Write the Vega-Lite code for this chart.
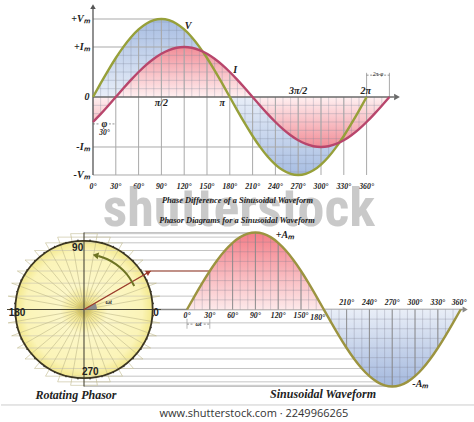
{
"$schema":"https://vega.github.io/schema/vega-lite/v6.json",
"padding":0,
"background":"white",
"spacing":0,
"bounds":"flush",
"config":{"view":{"stroke":null},"text":{"font":"Liberation Serif","fontStyle":"italic","fontWeight":"bold","color":"#222"}},
"datasets":{
"vc":[{"x":0,"y":0},{"x":10,"y":0.1736},{"x":20,"y":0.342},{"x":30,"y":0.5},{"x":40,"y":0.6428},{"x":50,"y":0.766},{"x":60,"y":0.866},{"x":70,"y":0.9397},{"x":80,"y":0.9848},{"x":90,"y":1},{"x":100,"y":0.9848},{"x":110,"y":0.9397},{"x":120,"y":0.866},{"x":130,"y":0.766},{"x":140,"y":0.6428},{"x":150,"y":0.5},{"x":160,"y":0.342},{"x":170,"y":0.1736},{"x":180,"y":0},{"x":190,"y":-0.1736},{"x":200,"y":-0.342},{"x":210,"y":-0.5},{"x":220,"y":-0.6428},{"x":230,"y":-0.766},{"x":240,"y":-0.866},{"x":250,"y":-0.9397},{"x":260,"y":-0.9848},{"x":270,"y":-1},{"x":280,"y":-0.9848},{"x":290,"y":-0.9397},{"x":300,"y":-0.866},{"x":310,"y":-0.766},{"x":320,"y":-0.6428},{"x":330,"y":-0.5},{"x":340,"y":-0.342},{"x":350,"y":-0.1736},{"x":360,"y":0}],
"ic":[{"x":0,"y":-0.3205},{"x":10,"y":-0.2192},{"x":20,"y":-0.1113},{"x":30,"y":0},{"x":40,"y":0.1113},{"x":50,"y":0.2192},{"x":60,"y":0.3205},{"x":70,"y":0.412},{"x":80,"y":0.491},{"x":90,"y":0.5551},{"x":100,"y":0.6023},{"x":110,"y":0.6313},{"x":120,"y":0.641},{"x":130,"y":0.6313},{"x":140,"y":0.6023},{"x":150,"y":0.5551},{"x":160,"y":0.491},{"x":170,"y":0.412},{"x":180,"y":0.3205},{"x":190,"y":0.2192},{"x":200,"y":0.1113},{"x":210,"y":0},{"x":220,"y":-0.1113},{"x":230,"y":-0.2192},{"x":240,"y":-0.3205},{"x":250,"y":-0.412},{"x":260,"y":-0.491},{"x":270,"y":-0.5551},{"x":280,"y":-0.6023},{"x":290,"y":-0.6313},{"x":300,"y":-0.641},{"x":310,"y":-0.6313},{"x":320,"y":-0.6023},{"x":330,"y":-0.5551},{"x":340,"y":-0.491},{"x":350,"y":-0.412},{"x":360,"y":-0.3205},{"x":370,"y":-0.2192},{"x":380,"y":-0.1113},{"x":390,"y":0}],
"tvg":[{"x":0,"y":-0.3205,"y2":0},{"x":10,"y":-0.2192,"y2":0.1736},{"x":20,"y":-0.1113,"y2":0.342},{"x":30,"y":0,"y2":0.5},{"x":40,"y":0,"y2":0.6428},{"x":50,"y":0,"y2":0.766},{"x":60,"y":0,"y2":0.866},{"x":70,"y":0,"y2":0.9397},{"x":80,"y":0,"y2":0.9848},{"x":90,"y":0,"y2":1},{"x":100,"y":0,"y2":0.9848},{"x":110,"y":0,"y2":0.9397},{"x":120,"y":0,"y2":0.866},{"x":130,"y":0,"y2":0.766},{"x":140,"y":0,"y2":0.6428},{"x":150,"y":0,"y2":0.5551},{"x":160,"y":0,"y2":0.491},{"x":170,"y":0,"y2":0.412},{"x":180,"y":0,"y2":0.3205},{"x":190,"y":-0.1736,"y2":0.2192},{"x":200,"y":-0.342,"y2":0.1113},{"x":210,"y":-0.5,"y2":0},{"x":220,"y":-0.6428,"y2":0},{"x":230,"y":-0.766,"y2":0},{"x":240,"y":-0.866,"y2":0},{"x":250,"y":-0.9397,"y2":0},{"x":260,"y":-0.9848,"y2":0},{"x":270,"y":-1,"y2":0},{"x":280,"y":-0.9848,"y2":0},{"x":290,"y":-0.9397,"y2":0},{"x":300,"y":-0.866,"y2":0},{"x":310,"y":-0.766,"y2":0},{"x":320,"y":-0.6428,"y2":0},{"x":330,"y":-0.5551,"y2":0},{"x":340,"y":-0.491,"y2":0},{"x":350,"y":-0.412,"y2":0},{"x":360,"y":-0.3205,"y2":0},{"x":370,"y":-0.2192,"y2":0},{"x":380,"y":-0.1113,"y2":0}],
"thg":[{"y":0.1068,"x":6.13,"x2":200.41},{"y":0.2137,"x":12.34,"x2":190.53},{"y":0.3205,"x":18.7,"x2":180},{"y":0.4273,"x":25.3,"x2":168.19},{"y":0.5342,"x":32.29,"x2":153.56},{"y":0.7478,"x":48.41,"x2":131.59},{"y":0.8547,"x":58.74,"x2":121.26},{"y":0.9615,"x":74.07,"x2":105.93},{"y":-0.1068,"x":186.13,"x2":380.41},{"y":-0.1068,"x":0,"x2":20.41},{"y":-0.2137,"x":192.34,"x2":370.53},{"y":-0.2137,"x":0,"x2":10.53},{"y":-0.3205,"x":198.7,"x2":360},{"y":-0.4273,"x":205.3,"x2":348.19},{"y":-0.5342,"x":212.29,"x2":333.56},{"y":-0.7478,"x":228.41,"x2":311.59},{"y":-0.8547,"x":238.74,"x2":301.26},{"y":-0.9615,"x":254.07,"x2":285.93}],
"tmaj":[{"x":30,"y":-1,"y2":0.5},{"x":60,"y":-1,"y2":0.866},{"x":90,"y":-1,"y2":1},{"x":120,"y":-1,"y2":0.866},{"x":150,"y":-1,"y2":0.5551},{"x":180,"y":-1,"y2":0.3205},{"x":210,"y":-1,"y2":0},{"x":240,"y":-1,"y2":0},{"x":270,"y":-1,"y2":0},{"x":300,"y":-1,"y2":0},{"x":330,"y":-1,"y2":0},{"x":360,"y":-1,"y2":0.31},{"x":390,"y":0,"y2":0.31}],
"tref":[{"y":1,"x":0,"x2":90},{"y":0.641,"x":0,"x2":120},{"y":-0.641,"x":0,"x2":300},{"y":-1,"x":0,"x2":270}],
"tdash":[{"y":0.28,"x":360,"x2":390},{"y":-0.345,"x":0,"x2":9},{"y":-0.345,"x":21,"x2":30}],
"tylab":[{"x":-4.5,"y":1,"t":"+Vₘ"},{"x":-4.5,"y":0.641,"t":"+Iₘ"},{"x":-4.5,"y":0,"t":"0"},{"x":-4.5,"y":-0.641,"t":"-Iₘ"},{"x":-4.5,"y":-1,"t":"-Vₘ"}],
"txlab":[{"x":0,"y":-1.154,"t":"0°"},{"x":30,"y":-1.154,"t":"30°"},{"x":60,"y":-1.154,"t":"60°"},{"x":90,"y":-1.154,"t":"90°"},{"x":120,"y":-1.154,"t":"120°"},{"x":150,"y":-1.154,"t":"150°"},{"x":180,"y":-1.154,"t":"180°"},{"x":210,"y":-1.154,"t":"210°"},{"x":240,"y":-1.154,"t":"240°"},{"x":270,"y":-1.154,"t":"270°"},{"x":300,"y":-1.154,"t":"300°"},{"x":330,"y":-1.154,"t":"330°"},{"x":360,"y":-1.154,"t":"360°"}],
"tbig":[{"x":90,"y":-0.077,"t":"π/2"},{"x":170,"y":-0.077,"t":"π"},{"x":270,"y":0.081,"t":"3π/2"},{"x":359,"y":0.081,"t":"2π"},{"x":125,"y":0.91,"t":"V"},{"x":187,"y":0.346,"t":"I"},{"x":15,"y":-0.34,"t":"φ"}],
"proj":[{"x":-135.5,"x2":10,"y":0.1736},{"x":-135.5,"x2":20,"y":0.342},{"x":-135.5,"x2":30,"y":0.5},{"x":-135.5,"x2":40,"y":0.6428},{"x":-135.5,"x2":50,"y":0.766},{"x":-135.5,"x2":60,"y":0.866},{"x":-135.5,"x2":70,"y":0.9397},{"x":-135.5,"x2":80,"y":0.9848},{"x":-135.5,"x2":90,"y":1},{"x":-135.5,"x2":190,"y":-0.1736},{"x":-135.5,"x2":200,"y":-0.342},{"x":-135.5,"x2":210,"y":-0.5},{"x":-135.5,"x2":220,"y":-0.6428},{"x":-135.5,"x2":230,"y":-0.766},{"x":-135.5,"x2":240,"y":-0.866},{"x":-135.5,"x2":250,"y":-0.9397},{"x":-135.5,"x2":260,"y":-0.9848},{"x":-135.5,"x2":270,"y":-1}],
"crad":[{"x":0.9848,"y":0.1736,"x2":-0.9848,"y2":-0.1736},{"x":0.9397,"y":0.342,"x2":-0.9397,"y2":-0.342},{"x":0.866,"y":0.5,"x2":-0.866,"y2":-0.5},{"x":0.766,"y":0.6428,"x2":-0.766,"y2":-0.6428},{"x":0.6428,"y":0.766,"x2":-0.6428,"y2":-0.766},{"x":0.5,"y":0.866,"x2":-0.5,"y2":-0.866},{"x":0.342,"y":0.9397,"x2":-0.342,"y2":-0.9397},{"x":0.1736,"y":0.9848,"x2":-0.1736,"y2":-0.9848},{"x":-0.1736,"y":0.9848,"x2":0.1736,"y2":-0.9848},{"x":-0.342,"y":0.9397,"x2":0.342,"y2":-0.9397},{"x":-0.5,"y":0.866,"x2":0.5,"y2":-0.866},{"x":-0.6428,"y":0.766,"x2":0.6428,"y2":-0.766},{"x":-0.766,"y":0.6428,"x2":0.766,"y2":-0.6428},{"x":-0.866,"y":0.5,"x2":0.866,"y2":-0.5},{"x":-0.9397,"y":0.342,"x2":0.9397,"y2":-0.342},{"x":-0.9848,"y":0.1736,"x2":0.9848,"y2":-0.1736}],
"cchord":[{"y":0.1736,"x":-0.9848,"x2":0.9848},{"y":0.342,"x":-0.9397,"x2":0.9397},{"y":0.5,"x":-0.866,"x2":0.866},{"y":0.6428,"x":-0.766,"x2":0.766},{"y":0.766,"x":-0.6428,"x2":0.6428},{"y":0.866,"x":-0.5,"x2":0.5},{"y":0.9397,"x":-0.342,"x2":0.342},{"y":0.9848,"x":-0.1736,"x2":0.1736},{"y":-0.1736,"x":-0.9848,"x2":0.9848},{"y":-0.342,"x":-0.9397,"x2":0.9397},{"y":-0.5,"x":-0.866,"x2":0.866},{"y":-0.6428,"x":-0.766,"x2":0.766},{"y":-0.766,"x":-0.6428,"x2":0.6428},{"y":-0.866,"x":-0.5,"x2":0.5},{"y":-0.9397,"x":-0.342,"x2":0.342},{"y":-0.9848,"x":-0.1736,"x2":0.1736}],
"cdots":[{"x":0.8966,"y":0.0784},{"x":0.8693,"y":0.2329},{"x":0.8157,"y":0.3804},{"x":0.7372,"y":0.5162},{"x":0.6364,"y":0.6364},{"x":0.5162,"y":0.7372},{"x":0.3804,"y":0.8157},{"x":0.2329,"y":0.8693},{"x":0.0784,"y":0.8966},{"x":-0.0784,"y":0.8966},{"x":-0.2329,"y":0.8693},{"x":-0.3804,"y":0.8157},{"x":-0.5162,"y":0.7372},{"x":-0.6364,"y":0.6364},{"x":-0.7372,"y":0.5162},{"x":-0.8157,"y":0.3804},{"x":-0.8693,"y":0.2329},{"x":-0.8966,"y":0.0784},{"x":0.8966,"y":-0.0784},{"x":0.8693,"y":-0.2329},{"x":0.8157,"y":-0.3804},{"x":0.7372,"y":-0.5162},{"x":0.6364,"y":-0.6364},{"x":0.5162,"y":-0.7372},{"x":0.3804,"y":-0.8157},{"x":0.2329,"y":-0.8693},{"x":0.0784,"y":-0.8966},{"x":-0.0784,"y":-0.8966},{"x":-0.2329,"y":-0.8693},{"x":-0.3804,"y":-0.8157},{"x":-0.5162,"y":-0.7372},{"x":-0.6364,"y":-0.6364},{"x":-0.7372,"y":-0.5162},{"x":-0.8157,"y":-0.3804},{"x":-0.8693,"y":-0.2329},{"x":-0.8966,"y":-0.0784}],
"carc":[{"o":1,"x":0.6525,"y":0.3043},{"o":2,"x":0.5898,"y":0.413},{"o":3,"x":0.5091,"y":0.5091},{"o":4,"x":0.413,"y":0.5898},{"o":5,"x":0.3043,"y":0.6525},{"o":6,"x":0.1863,"y":0.6955}],
"clab":[{"x":-0.082,"y":0.795,"t":"90"},{"x":-0.87,"y":-0.045,"t":"180"},{"x":0.935,"y":-0.045,"t":"0"},{"x":0.082,"y":-0.81,"t":"270"}],
"wh":[{"y":0.125,"x":7.18,"x2":172.82},{"y":0.25,"x":14.48,"x2":165.52},{"y":0.375,"x":22.02,"x2":157.98},{"y":0.5,"x":30,"x2":150},{"y":0.625,"x":38.68,"x2":141.32},{"y":0.75,"x":48.59,"x2":131.41},{"y":0.875,"x":61.04,"x2":118.96},{"y":-0.125,"x":187.18,"x2":352.82},{"y":-0.25,"x":194.48,"x2":345.52},{"y":-0.375,"x":202.02,"x2":337.98},{"y":-0.5,"x":210,"x2":330},{"y":-0.625,"x":218.68,"x2":321.32},{"y":-0.75,"x":228.59,"x2":311.41},{"y":-0.875,"x":241.04,"x2":298.96}],
"wvg":[{"x":10,"y":0,"y2":0.1736},{"x":20,"y":0,"y2":0.342},{"x":30,"y":0,"y2":0.5},{"x":40,"y":0,"y2":0.6428},{"x":50,"y":0,"y2":0.766},{"x":60,"y":0,"y2":0.866},{"x":70,"y":0,"y2":0.9397},{"x":80,"y":0,"y2":0.9848},{"x":90,"y":0,"y2":1},{"x":100,"y":0,"y2":0.9848},{"x":110,"y":0,"y2":0.9397},{"x":120,"y":0,"y2":0.866},{"x":130,"y":0,"y2":0.766},{"x":140,"y":0,"y2":0.6428},{"x":150,"y":0,"y2":0.5},{"x":160,"y":0,"y2":0.342},{"x":170,"y":0,"y2":0.1736},{"x":190,"y":0,"y2":-0.1736},{"x":200,"y":0,"y2":-0.342},{"x":210,"y":0,"y2":-0.5},{"x":220,"y":0,"y2":-0.6428},{"x":230,"y":0,"y2":-0.766},{"x":240,"y":0,"y2":-0.866},{"x":250,"y":0,"y2":-0.9397},{"x":260,"y":0,"y2":-0.9848},{"x":270,"y":0,"y2":-1},{"x":280,"y":0,"y2":-0.9848},{"x":290,"y":0,"y2":-0.9397},{"x":300,"y":0,"y2":-0.866},{"x":310,"y":0,"y2":-0.766},{"x":320,"y":0,"y2":-0.6428},{"x":330,"y":0,"y2":-0.5},{"x":340,"y":0,"y2":-0.342},{"x":350,"y":0,"y2":-0.1736}],
"wmaj":[{"x":30,"y":0,"y2":0.5},{"x":60,"y":0,"y2":0.866},{"x":90,"y":0,"y2":1},{"x":120,"y":0,"y2":0.866},{"x":150,"y":0,"y2":0.5},{"x":210,"y":0,"y2":-0.5},{"x":240,"y":0,"y2":-0.866},{"x":270,"y":0,"y2":-1},{"x":300,"y":0,"y2":-0.866},{"x":330,"y":0,"y2":-0.5}],
"wlab":[{"x":0,"y":-0.08,"t":"0°"},{"x":30,"y":-0.08,"t":"30°"},{"x":60,"y":-0.08,"t":"60°"},{"x":90,"y":-0.08,"t":"90°"},{"x":120,"y":-0.08,"t":"120°"},{"x":150,"y":-0.08,"t":"150°"},{"x":172,"y":-0.11,"t":"180°"},{"x":210,"y":0.08,"t":"210°"},{"x":240,"y":0.08,"t":"240°"},{"x":270,"y":0.08,"t":"270°"},{"x":300,"y":0.08,"t":"300°"},{"x":330,"y":0.08,"t":"330°"},{"x":358,"y":0.08,"t":"360°"}]
},
"vconcat":[
{
"width":474,"height":228,
"encoding":{"x":{"field":"x","type":"quantitative","scale":{"domain":[-121.05,502.63],"nice":false,"zero":false},"axis":null},"y":{"field":"y","type":"quantitative","scale":{"domain":[-1.6795,1.2436],"nice":false,"zero":false},"axis":null}},
"layer":[
{"data":{"name":"vc"},"mark":{"type":"area","interpolate":"natural","color":{"gradient":"linear","x1":0,"y1":0,"x2":0,"y2":1,"stops":[{"offset":0,"color":"#a7bde2"},{"offset":0.5,"color":"#e8eef8"},{"offset":1,"color":"#a7bde2"}]}},"encoding":{"y2":{"datum":0}}},
{"data":{"name":"ic"},"mark":{"type":"area","interpolate":"natural","color":{"gradient":"linear","x1":0,"y1":0,"x2":0,"y2":1,"stops":[{"offset":0,"color":"#f28e98"},{"offset":0.5,"color":"#fff0f1"},{"offset":1,"color":"#f28e98"}]}},"encoding":{"y2":{"datum":0}}},
{"data":{"name":"tvg"},"mark":{"type":"rule","color":"#7d869c","strokeWidth":0.6,"opacity":0.5},"encoding":{"y2":{"field":"y2"}}},
{"data":{"name":"thg"},"mark":{"type":"rule","color":"#7d869c","strokeWidth":0.6,"opacity":0.5},"encoding":{"x2":{"field":"x2"}}},
{"data":{"name":"tmaj"},"mark":{"type":"rule","color":"#a9a9a9","strokeWidth":1},"encoding":{"y2":{"field":"y2"}}},
{"data":{"name":"tref"},"mark":{"type":"rule","color":"#a9a9a9","strokeWidth":1},"encoding":{"x2":{"field":"x2"}}},
{"data":{"name":"tdash"},"mark":{"type":"rule","color":"#666","strokeWidth":0.7,"strokeDash":[2,1.5]},"encoding":{"x2":{"field":"x2"}}},
{"data":{"values":[{"x":0,"y":0,"x2":396}]},"mark":{"type":"rule","color":"#6a6a6a","strokeWidth":1.6},"encoding":{"x2":{"field":"x2"}}},
{"data":{"values":[{"x":0,"y":-1,"y2":1.15}]},"mark":{"type":"rule","color":"#555","strokeWidth":1.3},"encoding":{"y2":{"field":"y2"}}},
{"data":{"values":[{"x":400,"y":0}]},"mark":{"type":"point","shape":"triangle-right","filled":true,"size":45,"color":"#6a6a6a","opacity":1}},
{"data":{"values":[{"x":0,"y":1.16}]},"mark":{"type":"point","shape":"triangle-up","filled":true,"size":30,"color":"#555","opacity":1}},
{"data":{"name":"vc"},"mark":{"type":"line","interpolate":"natural","color":"#97a03a","strokeWidth":2.4}},
{"data":{"name":"ic"},"mark":{"type":"line","interpolate":"natural","color":"#b8466c","strokeWidth":2.4}},
{"data":{"name":"tylab"},"mark":{"type":"text","align":"right","baseline":"middle","fontSize":10},"encoding":{"text":{"field":"t"}}},
{"data":{"name":"txlab"},"mark":{"type":"text","align":"center","baseline":"middle","fontSize":7.8},"encoding":{"text":{"field":"t"}}},
{"data":{"name":"tbig"},"mark":{"type":"text","align":"center","baseline":"middle","fontSize":10},"encoding":{"text":{"field":"t"}}},
{"data":{"values":[{"x":15,"y":-0.46,"t":"30°"}]},"mark":{"type":"text","align":"center","baseline":"middle","fontSize":7.5},"encoding":{"text":{"field":"t"}}},
{"data":{"values":[{"x":375,"y":0.3,"t":"2π-φ"}]},"mark":{"type":"text","align":"center","baseline":"middle","fontSize":5.5,"fontWeight":"normal"},"encoding":{"text":{"field":"t"}}},
{"data":{"values":[{"x":192,"y":-1.654,"t":"shutterstock"}]},"mark":{"type":"text","align":"center","baseline":"alphabetic","fontSize":54,"font":"Liberation Sans Narrow, Roboto Condensed, Roboto","fontStyle":"normal","fontWeight":"bold","color":"#b8b8b8","opacity":0.75},"encoding":{"text":{"field":"t"}}},
{"data":{"values":[{"x":190,"y":-1.321,"t":"Phase Difference of a Sinusoidal Waveform"},{"x":189.5,"y":-1.577,"t":"Phasor Diagrams for a Sinusoidal Waveform"}]},"mark":{"type":"text","align":"center","baseline":"middle","fontSize":8.4},"encoding":{"text":{"field":"t"}}}
]
},
{
"width":474,"height":194,
"encoding":{"y":{"field":"y","type":"quantitative","scale":{"domain":[-1.461,1.0584],"nice":false,"zero":false},"axis":null}},
"resolve":{"scale":{"x":"independent"}},
"layer":[
{
"encoding":{"x":{"field":"x","type":"quantitative","scale":{"domain":[-244.7,378.9],"nice":false,"zero":false},"axis":null}},
"layer":[
{"data":{"name":"proj"},"mark":{"type":"rule","color":"#c4c4c4","strokeWidth":1},"encoding":{"x2":{"field":"x2"}}},
{"data":{"values":[{"x":-135.5,"y":0,"x2":363}]},"mark":{"type":"rule","color":"#8a8a8a","strokeWidth":1.3},"encoding":{"x2":{"field":"x2"}}}
]
},
{
"encoding":{"x":{"field":"x","type":"quantitative","scale":{"domain":[-1.0779,5.0779],"nice":false,"zero":false},"axis":null}},
"layer":[
{"data":{"values":[{"x":0,"y":0}]},"mark":{"type":"point","shape":"circle","filled":true,"size":18869,"opacity":1,"strokeWidth":0,"fill":{"gradient":"radial","x1":0.5,"y1":0.5,"r1":0,"x2":0.5,"y2":0.5,"r2":0.5,"stops":[{"offset":0,"color":"#cfae00"},{"offset":0.05,"color":"#e2c838"},{"offset":0.14,"color":"#f3e68a"},{"offset":0.35,"color":"#fcf7c8"},{"offset":0.85,"color":"#fbf4b8"},{"offset":1,"color":"#f3e88c"}]}}},
{"data":{"name":"cchord"},"mark":{"type":"rule","color":"#d2cdb0","strokeWidth":0.8},"encoding":{"x2":{"field":"x2"}}},
{"data":{"name":"crad"},"mark":{"type":"rule","color":"#bfb98a","strokeWidth":0.6},"encoding":{"x2":{"field":"x2"},"y2":{"field":"y2"}}},
{"data":{"values":[{"x":-1,"y":0,"x2":1}]},"mark":{"type":"rule","color":"#4a4838","strokeWidth":1.1},"encoding":{"x2":{"field":"x2"}}},
{"data":{"values":[{"x":0,"y":-1,"y2":1}]},"mark":{"type":"rule","color":"#4a4838","strokeWidth":1.1},"encoding":{"y2":{"field":"y2"}}},
{"data":{"name":"cdots"},"mark":{"type":"point","shape":"circle","filled":true,"size":3,"color":"#333","opacity":1}},
{"data":{"values":[{"x":0,"y":0}]},"mark":{"type":"point","shape":"circle","filled":false,"size":18869,"opacity":1,"stroke":"#3d3722","strokeWidth":1.8}},
{"data":{"values":[{"x":0,"y":0}]},"mark":{"type":"point","shape":"M0,0 L1,0 A1,1 0 0,0 0.866,-0.5 Z","filled":true,"size":676,"color":"#8c8c8c","opacity":1}},
{"data":{"values":[{"x":0,"y":0,"x2":0.866,"y2":0.5}]},"mark":{"type":"rule","color":"#9c3b2c","strokeWidth":1.4},"encoding":{"x2":{"field":"x2"},"y2":{"field":"y2"}}},
{"data":{"values":[{"x":0.84,"y":0.485}]},"mark":{"type":"point","shape":"triangle-right","angle":-30,"filled":true,"size":35,"color":"#9c3b2c","opacity":1}},
{"data":{"name":"carc"},"mark":{"type":"line","interpolate":"natural","color":"#6e7424","strokeWidth":2},"encoding":{"order":{"field":"o"}}},
{"data":{"values":[{"x":0.15,"y":0.704}]},"mark":{"type":"point","shape":"triangle-right","angle":-168,"filled":true,"size":45,"color":"#6e7424","opacity":1}},
{"data":{"name":"clab"},"mark":{"type":"text","align":"center","baseline":"middle","fontSize":10,"font":"Liberation Sans","fontStyle":"normal","fontWeight":"bold","color":"#222"},"encoding":{"text":{"field":"t"}}},
{"data":{"values":[{"x":0.32,"y":0.1,"t":"ωt"}]},"mark":{"type":"text","align":"center","baseline":"middle","fontSize":6.5},"encoding":{"text":{"field":"t"}}},
{"data":{"values":[{"x":-0.104,"y":-1.11,"t":"Rotating Phasor"}]},"mark":{"type":"text","align":"center","baseline":"middle","fontSize":12},"encoding":{"text":{"field":"t"}}}
]
},
{
"encoding":{"x":{"field":"x","type":"quantitative","scale":{"domain":[-244.7,378.9],"nice":false,"zero":false},"axis":null}},
"layer":[
{"data":{"name":"vc"},"transform":[{"filter":"datum.x <= 180"}],"mark":{"type":"area","interpolate":"natural","color":{"gradient":"linear","x1":0,"y1":0,"x2":0,"y2":1,"stops":[{"offset":0,"color":"#f47d87"},{"offset":1,"color":"#fde9ea"}]}},"encoding":{"y2":{"datum":0}}},
{"data":{"name":"vc"},"transform":[{"filter":"datum.x >= 180"}],"mark":{"type":"area","interpolate":"natural","color":{"gradient":"linear","x1":0,"y1":0,"x2":0,"y2":1,"stops":[{"offset":0,"color":"#e9eef7"},{"offset":1,"color":"#a3b8de"}]}},"encoding":{"y2":{"datum":0}}},
{"data":{"name":"wvg"},"mark":{"type":"rule","color":"#7d7d8c","strokeWidth":0.6,"opacity":0.5},"encoding":{"y2":{"field":"y2"}}},
{"data":{"name":"wh"},"mark":{"type":"rule","color":"#7d7d8c","strokeWidth":0.6,"opacity":0.5},"encoding":{"x2":{"field":"x2"}}},
{"data":{"name":"wmaj"},"mark":{"type":"rule","color":"#8a8a8a","strokeWidth":0.9},"encoding":{"y2":{"field":"y2"}}},
{"data":{"values":[{"x":366,"y":0}]},"mark":{"type":"point","shape":"triangle-right","filled":true,"size":35,"color":"#8a8a8a","opacity":1}},
{"data":{"values":[{"x":-47.8,"y":0.5,"x2":30}]},"mark":{"type":"rule","color":"#a0402e","strokeWidth":1.2},"encoding":{"x2":{"field":"x2"}}},
{"data":{"name":"vc"},"mark":{"type":"line","interpolate":"natural","color":"#9c9440","strokeWidth":2.4}},
{"data":{"values":[{"x":0,"x2":8,"y":-0.19},{"x":22,"x2":30,"y":-0.19}]},"mark":{"type":"rule","color":"#666","strokeWidth":0.7,"strokeDash":[2,1.5]},"encoding":{"x2":{"field":"x2"}}},
{"data":{"values":[{"x":0,"y":-0.12,"y2":-0.25},{"x":30,"y":-0.12,"y2":-0.25}]},"mark":{"type":"rule","color":"#999","strokeWidth":0.7},"encoding":{"y2":{"field":"y2"}}},
{"data":{"values":[{"x":15,"y":-0.19,"t":"ωt"}]},"mark":{"type":"text","align":"center","baseline":"middle","fontSize":6},"encoding":{"text":{"field":"t"}}},
{"data":{"name":"wlab"},"mark":{"type":"text","align":"center","baseline":"middle","fontSize":7.8},"encoding":{"text":{"field":"t"}}},
{"data":{"values":[{"x":129,"y":0.97,"t":"+Aₘ"},{"x":307,"y":-0.97,"t":"-Aₘ"}]},"mark":{"type":"text","align":"center","baseline":"middle","fontSize":10},"encoding":{"text":{"field":"t"}}},
{"data":{"values":[{"x":179,"y":-1.097,"t":"Sinusoidal Waveform"}]},"mark":{"type":"text","align":"center","baseline":"middle","fontSize":12},"encoding":{"text":{"field":"t"}}},
{"data":{"values":[{"x":-244.7,"x2":378.9,"y":-1.24}]},"mark":{"type":"rule","color":"#cccccc","strokeWidth":1},"encoding":{"x2":{"field":"x2"}}},
{"data":{"values":[{"x":88,"y":-1.357,"t":"www.shutterstock.com · 2249966265"}]},"mark":{"type":"text","align":"center","baseline":"middle","fontSize":11,"font":"Open Sans","fontStyle":"normal","fontWeight":"normal","color":"#333"},"encoding":{"text":{"field":"t"}}}
]
}
]
}
]
}
